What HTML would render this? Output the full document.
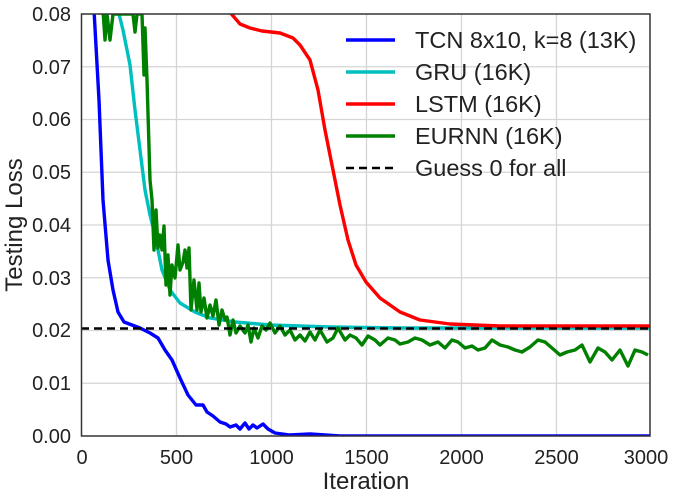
<!DOCTYPE html>
<html><head><meta charset="utf-8"><style>body{margin:0;background:#fff}svg{display:block}text{font-family:"Liberation Sans",sans-serif;fill:#222}</style></head><body>
<svg width="676" height="492" viewBox="0 0 676 492">
<g stroke="#d5d5d5" stroke-width="1.3">
<line x1="176.5" y1="14" x2="176.5" y2="436"/><line x1="271.5" y1="14" x2="271.5" y2="436"/><line x1="366.5" y1="14" x2="366.5" y2="436"/><line x1="461.5" y1="14" x2="461.5" y2="436"/><line x1="556.5" y1="14" x2="556.5" y2="436"/>
<line x1="81" y1="383.25" x2="650" y2="383.25"/><line x1="81" y1="330.5" x2="650" y2="330.5"/><line x1="81" y1="277.75" x2="650" y2="277.75"/><line x1="81" y1="225" x2="650" y2="225"/><line x1="81" y1="172.25" x2="650" y2="172.25"/><line x1="81" y1="119.5" x2="650" y2="119.5"/><line x1="81" y1="66.75" x2="650" y2="66.75"/>
</g>
<defs><clipPath id="c"><rect x="81" y="14" width="569" height="422"/></clipPath></defs>
<g clip-path="url(#c)" fill="none" stroke-width="3.4" stroke-linejoin="round">
<polyline stroke="#00bfbf" points="118,10 123,30 130,65 135,110 140,150 145,190 150,215 155,235 162,270 170,290 180,303 195,312 210,318 235,322 270,325 330,327 400,328 650,328"/>
<polyline stroke="#ff0000" points="228,10 240,24 250,28 262,31 280,33 293,38 300,45 310,60 318,90 325,130 333,170 340,205 348,240 356,265 366,282 380,298 400,312 420,320 450,324 500,326 650,326"/>
<polyline stroke="#008000" points="103,10 105,40 107,14 110,40 113,14 118,14 133,14 135,32 137,14 142,14 144,75 145,28 147,80 150,180 152,200 154,250 156,210 158,248 160,235 162,250 164,226 166,285 168,255 170,295 172,265 175,278 178,245 180,270 183,262 185,250 187,268 189,248 191,310 194,280 197,310 199,283 201,312 204,298 207,318 210,305 213,316 216,300 219,325 222,310 225,320 227,317 230,335 233,320 236,333 240,326 245,333 248,325 251,342 254,328 258,338 262,326 266,330 270,323 275,333 280,326 285,335 290,330 295,340 300,335 305,341 310,332 315,340 320,330 327,342 333,338 338,328 345,340 350,335 356,338 362,345 368,336 375,340 380,345 388,338 395,340 400,344 408,342 415,338 422,340 430,345 438,342 445,348 452,340 458,342 465,348 472,346 478,350 485,348 492,340 500,345 508,347 515,350 522,352 530,347 538,340 545,342 552,348 560,355 567,352 575,350 582,345 590,362 598,348 605,352 612,360 620,350 628,366 635,350 642,352 648,355"/>
<polyline stroke="#0000ff" points="94,10 99,100 103,200 108,260 113,290 118,312 124,322 132,325 140,328 150,333 158,338 165,350 172,360 180,378 188,395 196,405 203,405 207,412 213,416 220,422 226,424 230,427 236,425 240,429 245,423 249,429 253,425 257,428 263,424 268,429 275,433 290,435 310,434 340,436 650,436"/>
<line x1="81" y1="328.5" x2="650" y2="328.5" stroke="#000" stroke-width="2.5" stroke-dasharray="8,5"/>
</g>
<rect x="81.5" y="14" width="568.5" height="422" fill="none" stroke="#333" stroke-width="1.5"/>
<g font-size="20" text-anchor="end">
<text x="71" y="443">0.00</text><text x="71" y="390">0.01</text><text x="71" y="337">0.02</text><text x="71" y="285">0.03</text><text x="71" y="232">0.04</text><text x="71" y="179">0.05</text><text x="71" y="126">0.06</text><text x="71" y="74">0.07</text><text x="71" y="21">0.08</text>
</g>
<g font-size="20" text-anchor="middle">
<text x="82" y="464">0</text><text x="176.5" y="464">500</text><text x="271.5" y="464">1000</text><text x="366.5" y="464">1500</text><text x="461.5" y="464">2000</text><text x="556.5" y="464">2500</text><text x="646" y="464">3000</text>
</g>
<text x="366" y="489" font-size="24" text-anchor="middle">Iteration</text>
<text transform="translate(22,225) rotate(-90)" font-size="24" text-anchor="middle">Testing Loss</text>
<g stroke-width="3.4">
<line x1="346" y1="40" x2="395" y2="40" stroke="#0000ff"/>
<line x1="346" y1="72" x2="395" y2="72" stroke="#00bfbf"/>
<line x1="346" y1="104" x2="395" y2="104" stroke="#ff0000"/>
<line x1="346" y1="136" x2="395" y2="136" stroke="#008000"/>
<line x1="346" y1="168" x2="395" y2="168" stroke="#000" stroke-width="2.5" stroke-dasharray="8,5"/>
</g>
<g font-size="23.5">
<text x="415" y="48">TCN 8x10, k=8 (13K)</text>
<text x="415" y="80">GRU (16K)</text>
<text x="415" y="112">LSTM (16K)</text>
<text x="415" y="144">EURNN (16K)</text>
<text x="415" y="176">Guess 0 for all</text>
</g>
</svg>
</body></html>
